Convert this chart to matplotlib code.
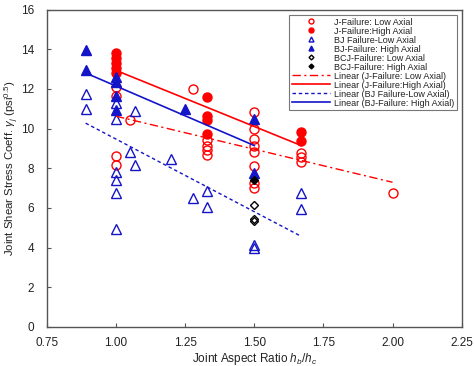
import numpy as np
import matplotlib
matplotlib.use('Agg')
import matplotlib.pyplot as plt

plt.rcParams['font.family'] = ['Liberation Sans', 'DejaVu Sans']
plt.rcParams['mathtext.fontset'] = 'custom'
plt.rcParams['mathtext.it'] = 'Liberation Sans:italic'
plt.rcParams['mathtext.rm'] = 'Liberation Sans'

# J-Failure: Low Axial (open red circles)
j_low_x = [1.00, 1.00, 1.00, 1.00, 1.05, 1.28, 1.33, 1.33, 1.33, 1.33,
           1.50, 1.50, 1.50, 1.50, 1.50, 1.50, 1.50, 1.50,
           1.67, 1.67, 1.67, 2.00]
j_low_y = [12.1, 11.65, 8.6, 8.15, 10.45, 12.0, 9.4, 9.1, 8.9, 8.65,
           10.85, 10.0, 9.45, 9.1, 8.8, 8.1, 7.25, 7.0,
           8.75, 8.55, 8.3, 6.75]

# J-Failure: High Axial (filled red circles)
j_high_x = [1.00, 1.00, 1.00, 1.00, 1.00, 1.33, 1.33, 1.33, 1.33, 1.67, 1.67]
j_high_y = [13.8, 13.55, 13.3, 13.05, 12.8, 11.6, 10.65, 10.45, 9.7, 9.8, 9.35]

# BJ Failure: Low Axial (open blue triangles)
bj_low_x = [0.89, 0.89, 1.00, 1.00, 1.00, 1.00, 1.00, 1.00, 1.05, 1.07, 1.07,
            1.20, 1.28, 1.33, 1.33, 1.50, 1.50, 1.67, 1.67]
bj_low_y = [11.75, 11.0, 11.3, 10.5, 7.8, 7.4, 6.75, 4.95, 8.8, 10.9, 8.15,
            8.45, 6.5, 6.85, 6.05, 4.15, 3.95, 6.75, 5.95]

# BJ Failure: High Axial (filled blue triangles)
bj_high_x = [0.89, 0.89, 1.00, 1.00, 1.00, 1.00, 1.25, 1.50, 1.50]
bj_high_y = [13.95, 12.95, 12.6, 12.35, 11.65, 10.95, 11.0, 10.5, 7.75]

# BCJ Failure
bcj_low_x = [1.50, 1.50, 1.50]
bcj_low_y = [6.15, 5.45, 5.35]
bcj_high_x = [1.50]
bcj_high_y = [7.4]

# linear trendlines as drawn in the chart: value at the first and last x of each series
trend_j_low = [10.62, 7.29]
trend_j_high = [12.93, 9.14]
trend_bj_low = [10.27, 4.56]
trend_bj_high = [12.8, 9.14]

RED = '#FF0000'
BLUE = '#1414C8'

fig = plt.figure(figsize=(4.74, 3.66), dpi=100)
ax = fig.add_axes([0.099, 0.107, 0.875, 0.867])

ms = 6.5
ax.plot(j_low_x, j_low_y, 'o', mfc='none', mec=RED, mew=1.0, ms=ms,
        label='J-Failure: Low Axial')
ax.plot(j_high_x, j_high_y, 'o', color=RED, ms=ms,
        label='J-Failure:High Axial')
ax.plot(bj_low_x, bj_low_y, '^', mfc='none', mec=BLUE, mew=1.0, ms=ms,
        label='BJ Failure-Low Axial')
ax.plot(bj_high_x, bj_high_y, '^', color=BLUE, ms=ms,
        label='BJ-Failure: High Axial')
ax.plot(bcj_low_x, bcj_low_y, 'D', mfc='none', mec='black', mew=1.0, ms=4.5,
        label='BCJ-Failure: Low Axial')
ax.plot(bcj_high_x, bcj_high_y, 'D', color='black', ms=4.5,
        label='BCJ-Failure: High Axial')


def span(xs):
    return [min(xs), max(xs)]


ax.plot(span(j_low_x), trend_j_low, color=RED, lw=1.0, dashes=[6, 2.5, 1.5, 2.5],
        label='Linear (J-Failure: Low Axial)')
ax.plot(span(j_high_x), trend_j_high, color=RED, lw=1.2,
        label='Linear (J-Failure:High Axial)')
ax.plot(span(bj_low_x), trend_bj_low, color=BLUE, lw=1.0, dashes=[2.5, 2],
        label='Linear (BJ Failure-Low Axial)')
ax.plot(span(bj_high_x), trend_bj_high, color=BLUE, lw=1.2,
        label='Linear (BJ-Failure: High Axial)')

ax.set_xlim(0.75, 2.25)
ax.set_ylim(0, 16)
xt = np.arange(0.75, 2.26, 0.25)
ax.set_xticks(xt)
ax.set_xticklabels(['%.2f' % v for v in xt])
ax.set_yticks(range(0, 17, 2))
ax.tick_params(direction='in', length=3, width=0.8, color='#555555',
               labelsize=8.5, labelcolor='#222222')
ax.tick_params(axis='x', pad=7)
ax.tick_params(axis='y', pad=9)
for s in ax.spines.values():
    s.set_color('#555555')
    s.set_linewidth(1.0)

ax.set_xlabel('Joint Aspect Ratio $h_b$/$h_c$', fontsize=8.5, color='#222222',
              labelpad=2)
ax.set_ylabel('Joint Shear Stress Coeff. $\\gamma_j$ (psi$^{0.5}$)',
              fontsize=8.2, color='#222222')
ax.yaxis.set_label_coords(-0.063, 0.5)

leg = ax.legend(loc='upper right', fontsize=6.5, markerscale=0.55,
                handlelength=4.2, handletextpad=0.5, labelspacing=0.0,
                borderpad=0.3, borderaxespad=0, fancybox=False, framealpha=1,
                edgecolor='#777777', bbox_to_anchor=(0.989, 0.983))
leg.get_frame().set_linewidth(0.8)
for t in leg.get_texts():
    t.set_color('#222222')

fig.savefig('out.png', dpi=100)
